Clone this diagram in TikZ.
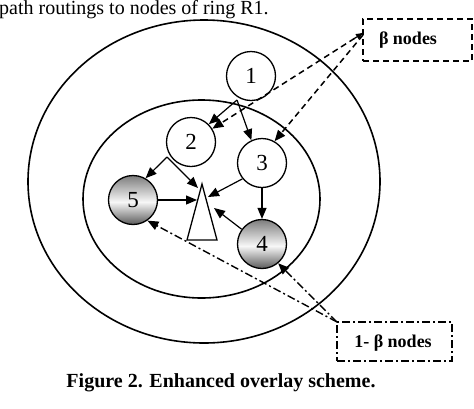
\documentclass[tikz,border=0pt]{standalone}
\usepackage{fontspec}
\setmainfont{Liberation Serif}
\usetikzlibrary{arrows.meta,calc}
\begin{document}
\begin{tikzpicture}[x=1pt,y=-1pt,
  nd/.style={circle,draw,line width=1.3pt,minimum size=49pt,inner sep=0pt,font=\fontsize{23}{24}\selectfont},
  ring/.style={draw,line width=1.6pt},
  arr/.style={-{Triangle[length=11pt,width=9pt]},line width=1.2pt},
  dsh/.style={line width=1.5pt,dash pattern=on 6pt off 4pt,-{Triangle[length=11pt,width=9pt]}},
  dshdot/.style={line width=1.4pt,dash pattern=on 8pt off 3pt on 2pt off 3pt,-{Triangle[length=11pt,width=9pt]}},
  lbl/.style={font=\bfseries\fontsize{18}{20}\selectfont,inner sep=0pt}]
\useasboundingbox (0,0) rectangle (474,408);
% header text
\node[anchor=base west,inner sep=0pt,font=\fontsize{20}{22}\selectfont] (hdr) at (-1,14.5) {path routings to nodes of ring R1.};
% rings
\draw[ring] (204,181.5) ellipse [x radius=176, y radius=161.5];
\draw[ring] (201.5,199) ellipse [x radius=118.5, y radius=99];
% shaded backgrounds for nodes 5 and 4
\coordinate (c5) at (133,200);
\coordinate (c4) at (262,244);
\foreach \c in {c5,c4}{
  \begin{scope}
    \clip (\c) circle (24.5);
    \foreach \i in {0,...,49}{
      \pgfmathsetmacro\p{\i<27 ? 52-49*\i/27 : 3+60*(\i-27)/22}
      \fill[black!\p] ($(\c)+(-25,-25+\i)$) rectangle +(50,1.3);
    }
  \end{scope}
}
% nodes
\node[nd] (n1) at (251,76) {1};
\node[nd] (n2) at (191,142) {2};
\node[nd] (n3) at (262,163) {3};
\node[nd] (n5) at (c5) {5};
\node[nd] (n4) at (c4) {4};
% triangle
\draw[line width=1.3pt] (202,184) -- (217,240) -- (187,240) -- cycle;
\coordinate (tA) at (198,188);
\coordinate (tB) at (197,200);
\coordinate (tC) at (208,197);
\coordinate (tD) at (214,208);
% arrows
\coordinate (b1) at (237,100);
\coordinate (b2) at (167,157);
\draw[arr] (b1) -- (n2.45);
\draw[arr] (b1) -- (n3.115);
\draw[arr] (b2) -- (n5.60);
\draw[arr] (b2) -- (tA);
\draw[arr] (n5.east) -- (tB);
\draw[arr] (n3.219) -- (tC);
\draw[arr] (n3.south) -- (n4.north);
\draw[arr] (n4.144) -- (tD);
% beta box
\node[draw,line width=1.7pt,dash pattern=on 6pt off 4pt,minimum width=109pt,minimum height=42pt,inner sep=0pt] (bb) at (417.5,40) {};
\node[lbl] (bt) at (408,40) {β nodes};
\coordinate (bs1) at (363,33);
\coordinate (bs2) at (363,35);
\draw[dsh] (bs1) -- (n2.32);
\draw[dsh] (bs2) -- (n3.60);
\draw[-{Triangle[length=7pt,width=6pt]},line width=1.2pt] ($(bs1)!0.06!(n2.32)$) -- (bs1);
% 1-beta box
\node[draw,line width=1.5pt,dash pattern=on 8pt off 3pt on 2pt off 3pt,minimum width=115pt,minimum height=39pt,inner sep=0pt] (ob) at (394.5,341.5) {};
\node[lbl] (ot) at (393,343) {1- β nodes};
\coordinate (os) at (337,322);
\draw[dshdot] (os) -- (n5.-55);
\draw[dshdot] (os) -- (n4.-50);
% caption
\node[font=\bfseries\fontsize{20}{22}\selectfont,inner sep=0pt] (cap) at (221,383) {Figure 2. Enhanced overlay scheme.};
\end{tikzpicture}
\end{document}
